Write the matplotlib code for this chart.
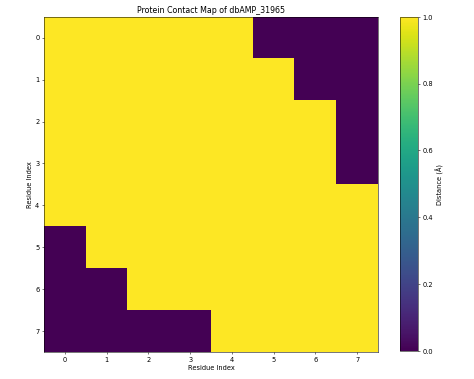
import matplotlib
matplotlib.use("Agg")
import matplotlib.pyplot as plt
import numpy as np

residues = list(range(8))
contact_rows = [
    [1, 1, 1, 1, 1, 0, 0, 0],
    [1, 1, 1, 1, 1, 1, 0, 0],
    [1, 1, 1, 1, 1, 1, 1, 0],
    [1, 1, 1, 1, 1, 1, 1, 0],
    [1, 1, 1, 1, 1, 1, 1, 1],
    [0, 1, 1, 1, 1, 1, 1, 1],
    [0, 0, 1, 1, 1, 1, 1, 1],
    [0, 0, 0, 0, 1, 1, 1, 1],
]
title = "Protein Contact Map of dbAMP_31965"

W, H = 474, 379
data = np.array(contact_rows, dtype=float)
fig = plt.figure(figsize=(10, 8), dpi=47.4)
ax = fig.add_axes([44 / W, (H - 352) / H, (378 - 44) / W, (352 - 17) / H])
cax = fig.add_axes([400 / W, (H - 351) / H, (418 - 400) / W, (351 - 17) / H])
im = ax.imshow(data, cmap="viridis", vmin=0, vmax=1, aspect="auto")
cb = fig.colorbar(im, cax=cax)
cb.set_label("Distance (Å)")
ax.set_xticks(residues)
ax.set_yticks(residues)
ax.set_title(title)
ax.set_xlabel("Residue Index")
ax.set_ylabel("Residue Index")
fig.savefig("out.png", dpi=47.4)
